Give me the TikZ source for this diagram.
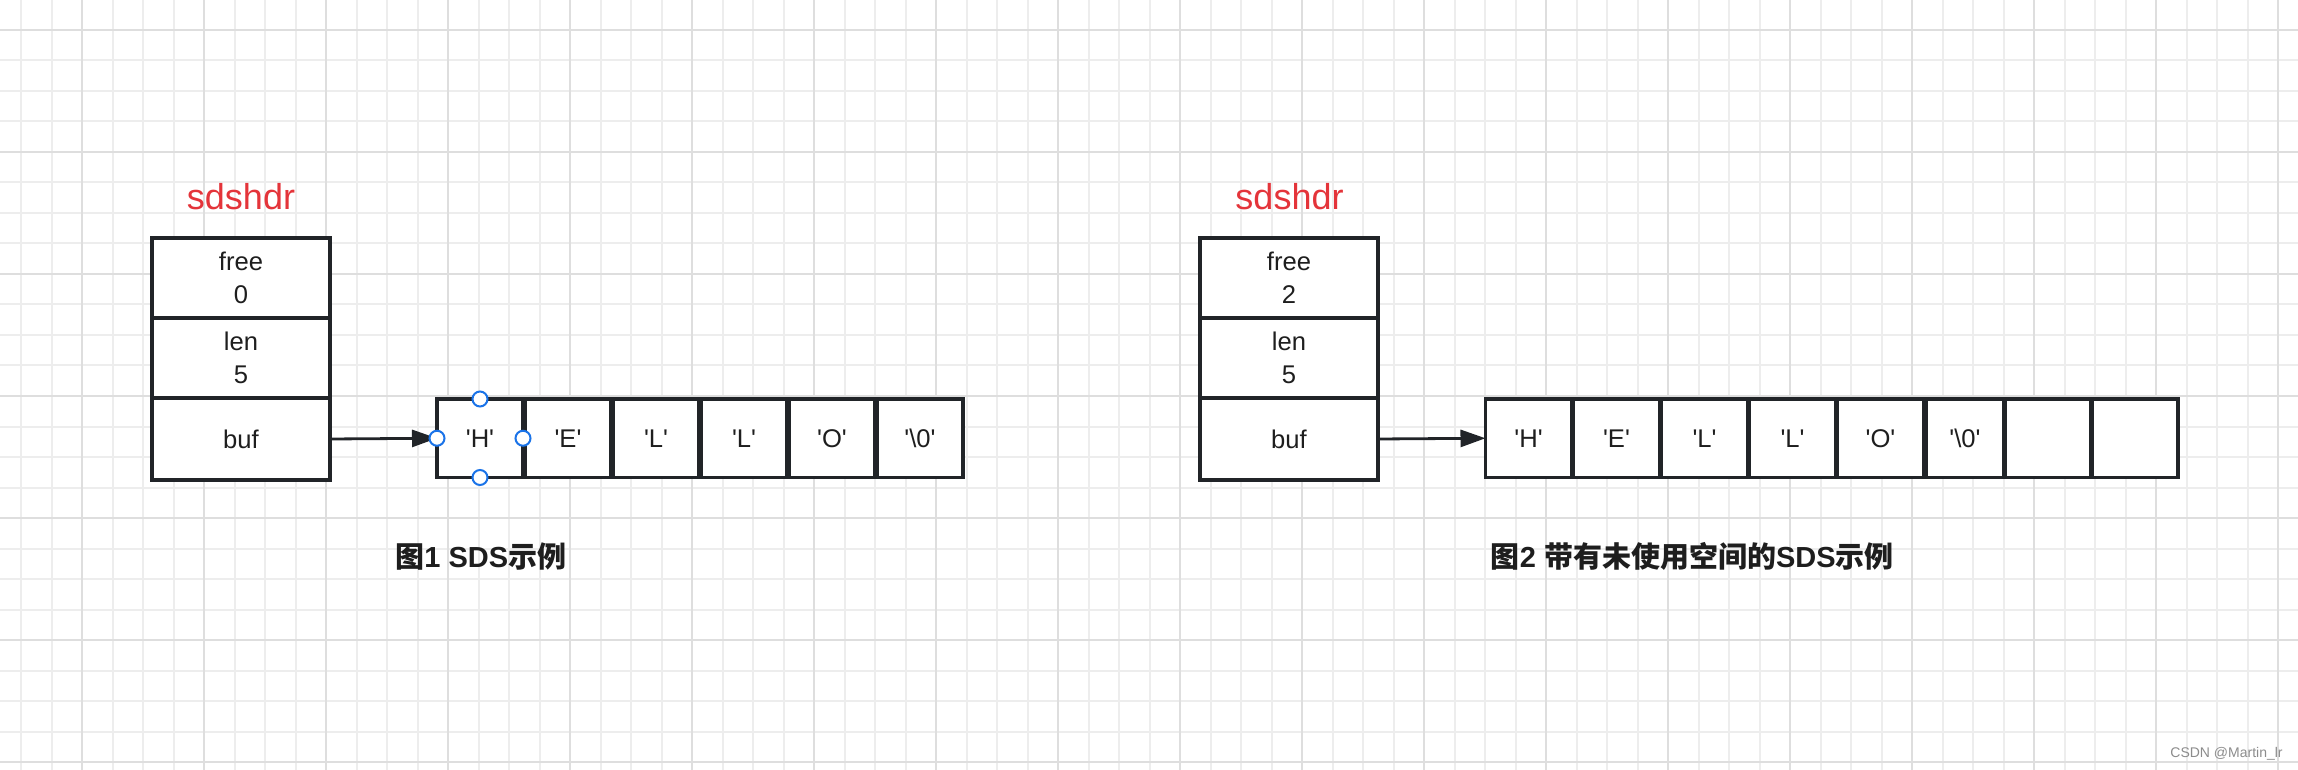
\documentclass[tikz,border=0pt]{standalone}
\usepackage{fontspec}
\setmainfont{Liberation Sans}
\newfontfamily\cjk{Noto Sans CJK SC}
\usetikzlibrary{arrows.meta}
\definecolor{gridminor}{RGB}{237,237,237}
\definecolor{gridmajor}{RGB}{222,222,222}
\definecolor{linec}{RGB}{33,36,40}
\definecolor{textc}{RGB}{30,30,30}
\definecolor{redc}{RGB}{228,52,58}
\definecolor{handlec}{RGB}{26,115,232}
\newcommand\sq{\textquotesingle}
\tikzset{
  field/.style={draw=linec, fill=white, line width=1.6pt, minimum width=89pt,
    minimum height=40pt, inner sep=0pt, outer sep=0pt, align=center,
    font=\fontsize{12.8}{16.5}\selectfont, text=textc},
  cell/.style={draw=linec, fill=white, line width=1.6pt, minimum width=43pt,
    minimum height=39.25pt, inner sep=0pt, outer sep=0pt,
    font=\fontsize{12.8}{15}\selectfont, text=textc},
  title/.style={font=\fontsize{18}{20}\selectfont, text=redc, inner sep=0pt, anchor=base},
  caption/.style={font=\fontsize{14.5}{16}\selectfont\bfseries, text=textc, inner sep=0pt, anchor=base west},
  ptr/.style={draw=linec, line width=1.4pt, -{Triangle[length=12.5pt,width=8.5pt]}},
  handle/.style={circle, draw=handlec, fill=white, line width=1pt, minimum size=7.5pt, inner sep=0pt}
}
\begin{document}
\begin{tikzpicture}[x=0.5pt,y=-0.5pt]
\useasboundingbox (0,0) rectangle (2298,770);
\fill[white] (0,0) rectangle (2298,770);
% grid
\foreach \i in {0,...,74} { \draw[gridminor, line width=1pt] ({21+30.5*\i},0) -- ({21+30.5*\i},770); }
\foreach \i in {0,...,25} { \draw[gridminor, line width=1pt] (0,{30.5*\i-0.5}) -- (2298,{30.5*\i-0.5}); }
\foreach \i in {0,...,18} { \draw[gridmajor, line width=1.2pt] ({82+122*\i},0) -- ({82+122*\i},770); }
\foreach \i in {0,...,6} { \draw[gridmajor, line width=1.2pt] (0,{30+122*\i}) -- (2298,{30+122*\i}); }

% ---------- Figure 1 ----------
\node[title] (t1) at (241,210) {sdshdr};
\node[field] (free1) at (241,278) {free\\0};
\node[field] (len1) at (241,358) {len\\5};
\node[field, minimum height=41pt] (buf1) at (241,439) {buf};
\node[cell] (h1) at (480,438.25) {\sq H\sq};
\node[cell] (e1) at (568,438.25) {\sq E\sq};
\node[cell] (l1) at (656,438.25) {\sq L\sq};
\node[cell] (m1) at (744,438.25) {\sq L\sq};
\node[cell] (o1) at (832,438.25) {\sq O\sq};
\node[cell] (z1) at (920,438.25) {\sq\textbackslash 0\sq};
\draw[ptr] (buf1.east) -- (h1.west);
\node[handle] (hw) at (h1.west) {};
\node[handle] (he) at (h1.east) {};
\node[handle] (hn) at (h1.north) {};
\node[handle] (hs) at (h1.south) {};
\node[caption] (c1) at (395,567) {{\cjk 图}1 SDS{\cjk 示例}};

% ---------- Figure 2 ----------
\node[title] (t2) at (1289.5,210) {sdshdr};
\node[field] (free2) at (1289,278) {free\\2};
\node[field] (len2) at (1289,358) {len\\5};
\node[field, minimum height=41pt] (buf2) at (1289,439) {buf};
\node[cell] (h2) at (1528.5,438.25) {\sq H\sq};
\node[cell] (e2) at (1616.5,438.25) {\sq E\sq};
\node[cell] (l2) at (1704.5,438.25) {\sq L\sq};
\node[cell] (m2) at (1792.5,438.25) {\sq L\sq};
\node[cell] (o2) at (1880.5,438.25) {\sq O\sq};
\node[cell, minimum width=39pt] (z2) at (1965,438.25) {\sq\textbackslash 0\sq};
\node[cell] (x2) at (2048,438.25) {};
\node[cell] (y2) at (2135,438.25) {};
\draw[ptr] (buf2.east) -- (h2.west);
\node[caption] (c2) at (1490.5,567) {{\cjk 图}2 {\cjk 带有未使用空间的}SDS{\cjk 示例}};

% watermark
\node[anchor=east, inner sep=0pt, font=\fontsize{7}{8}\selectfont, text=black!45] (wm) at (2283,754) {CSDN @Martin\_lr};
\end{tikzpicture}
\end{document}
